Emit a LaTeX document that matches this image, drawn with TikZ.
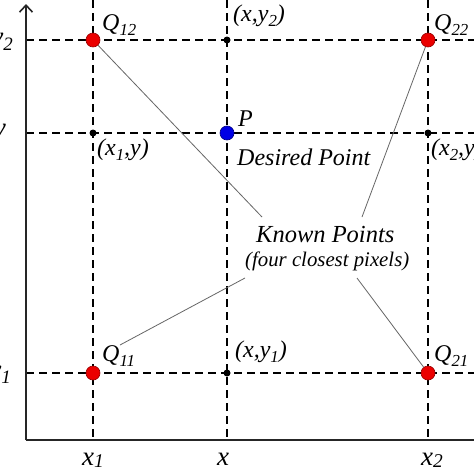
\documentclass[tikz,border=0pt]{standalone}
\usepackage{fontspec}
\setmainfont{Liberation Serif}
\usetikzlibrary{arrows.meta}
\newcommand{\lo}[1]{\raisebox{-0.22em}{\scalebox{0.7}{#1}}}
\newcommand{\lox}[1]{\raisebox{-0.08em}{\scalebox{0.72}{#1}}}
\begin{document}
\begin{tikzpicture}[x=1pt,y=-1pt,
  gridline/.style={dash pattern=on 8pt off 5pt, line width=1.8pt, black},
  axisline/.style={line width=2pt, black!85},
  lead/.style={draw=black!60, line width=0.8pt},
  rdot/.style={circle, inner sep=0, minimum size=14pt, fill=red!92!black, draw=red!60!black, line width=0.6pt},
  bdot/.style={circle, inner sep=0, minimum size=14pt, fill=blue!90!black, draw=blue!50!black, line width=0.6pt},
  kdot/.style={circle, inner sep=0, minimum size=7pt, fill=black},
  lbl/.style={anchor=base west, inner sep=0, font=\fontsize{24}{24}\selectfont\itshape},
  clbl/.style={anchor=base west, inner sep=0, font=\fontsize{24}{24}\selectfont\itshape},
  albl/.style={anchor=base, inner sep=0, font=\fontsize{27}{27}\selectfont\itshape},
  ylbl/.style={anchor=base east, inner sep=0, font=\fontsize{27}{27}\selectfont\itshape}]
\useasboundingbox (0,0) rectangle (474,474);
\fill[white] (0,0) rectangle (474,474);
% dashed grid
\draw[gridline] (93,0) -- (93,440);
\draw[gridline] (227,0) -- (227,440);
\draw[gridline] (428,0) -- (428,440);
\draw[gridline] (26,40) -- (480,40);
\draw[gridline] (26,133) -- (480,133);
\draw[gridline] (26,373) -- (480,373);
% axes
\coordinate (o) at (26,440);
\coordinate (ytop) at (26,4);
\coordinate (xend) at (480,440);
\draw[axisline, -{Straight Barb[length=7pt,width=13pt,line width=1.6pt]}] (o) -- (ytop);
\draw[axisline] (o) -- (xend);
% leader coordinates
\coordinate (k12) at (262,217);
\coordinate (k22) at (362,217);
\coordinate (k11) at (245,278);
\coordinate (c11) at (120,345);
\coordinate (k21) at (357,278);
% dots
\node[rdot] (q12) at (93,40) {};
\node[rdot] (q22) at (428,40) {};
\node[rdot] (q11) at (93,373) {};
\node[rdot] (q21) at (428,373) {};
\node[bdot] (p) at (227,133) {};
\node[kdot] (xy2) at (227,40) {};
\node[kdot] (x1y) at (93,133) {};
\node[kdot] (x2y) at (428,133) {};
\node[kdot] (xy1) at (227,373) {};
% leader lines
\draw[lead] (q12) -- (k12);
\draw[lead] (q22) -- (k22);
\draw[lead] (c11) -- (k11);
\draw[lead] (q21) -- (k21);
% labels
\node[lbl] (lq12) at (102,30) {Q\lo{12}};
\node[lbl] (lq22) at (434,30) {Q\lo{22}};
\node[lbl] (lq11) at (102,361) {Q\lo{11}};
\node[lbl] (lq21) at (434,361) {Q\lo{21}};
\node[lbl] (lp) at (238,126) {P};
\node[lbl] (ldp) at (237,165) {Desired Point};
\node[clbl] (lxy2) at (233,21) {(x,y\lo{2})};
\node[clbl] (lx1y) at (97,155) {(x\lo{1},y)};
\node[clbl] (lx2y) at (431,155) {(x\lo{2},y)};
\node[clbl] (lxy1) at (235,357) {(x,y\lo{1})};
\node[anchor=base west, inner sep=0, font=\fontsize{24.5}{24.5}\selectfont\itshape] (lkp) at (256,242) {Known Points};
\node[anchor=base west, inner sep=0, font=\fontsize{20.8}{20.8}\selectfont\itshape] (lfc) at (245,266) {(four closest pixels)};
% axis labels
\node[albl] (ax1) at (93,465) {x\lox{1}};
\node[albl] (ax) at (223,465) {x};
\node[albl] (ax2) at (432,465) {x\lox{2}};
\node[ylbl] (ay2) at (13,45) {y\lo{2}};
\node[ylbl] (ay) at (6,136) {y};
\node[ylbl] (ay1) at (11,378) {y\lo{1}};
\end{tikzpicture}
\end{document}
